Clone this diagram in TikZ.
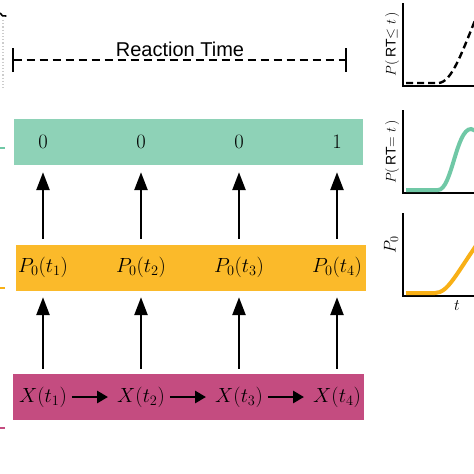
\RequirePackage{fix-cm}
\documentclass[tikz,border=0pt]{standalone}
\usepackage{amsmath}
\usepackage{amssymb}
\usepackage{fontspec}
\newfontfamily\sanslabel{Liberation Sans}
\usepackage{tikz}
\usetikzlibrary{
    arrows.meta,
    calc
}

\definecolor{outcome}{RGB}{142,210,183}
\definecolor{outcomeline}{RGB}{112,200,166}
\definecolor{prob}{RGB}{251,186,42}
\definecolor{probline}{RGB}{248,176,22}
\definecolor{state}{RGB}{196,76,128}

\tikzset{
    lbl/.style={inner sep=0pt, minimum height=40pt, font=\fontsize{20.5}{24}\selectfont},
    uparrow/.style={line width=2.6pt, -{Triangle[length=18pt,width=13pt]},
        shorten <=8pt, shorten >=10pt},
    sidearrow/.style={line width=2.8pt, -{Triangle[length=11pt,width=12pt]},
        shorten <=5pt, shorten >=9pt},
    axis/.style={line width=2.8pt},
    ylab/.style={rotate=90, font=\fontsize{14}{16}\selectfont}
}

\begin{document}
\begin{tikzpicture}[x=1pt,y=-1pt]
\useasboundingbox (0,0) rectangle (474,474);
\clip (0,0) rectangle (474,474);

% Cut-off bits at the left edge
\draw[line width=1.6pt] (0,13) arc (160:70:5);
\draw[gray!40, dotted, line width=1.2pt] (3,20) -- (3,90);
\draw[outcomeline, line width=1.5pt] (0,148) -- (5,148);
\draw[probline, line width=1.5pt] (0,288) -- (5,288);
\draw[state, line width=1.5pt] (0,428) -- (5,428);

% Reaction time span
\coordinate (rtl) at (12,60);
\coordinate (rtr) at (347,60);
\draw[line width=2.2pt, dash pattern=on 8pt off 5pt,
    {Bar[width=24pt,line width=2pt]}-{Bar[width=24pt,line width=2pt]}] (rtl) -- (rtr);
\node[anchor=base, font=\sanslabel\fontsize{20}{24}\selectfont] (rtlabel) at (180,56) {Reaction Time};

% Boxes
\fill[outcome] (14,119) rectangle (363,165);
\fill[prob] (16,245) rectangle (366,291);
\fill[state] (13,374) rectangle (364,420);

% Outcomes
\node[lbl] (z1) at (43,142) {$0$};
\node[lbl] (z2) at (141,142) {$0$};
\node[lbl] (z3) at (239,142) {$0$};
\node[lbl] (z4) at (337,142) {$1$};

% Probabilities
\node[lbl] (p1) at (43,267) {$P_0(t_1)$};
\node[lbl] (p2) at (141,267) {$P_0(t_2)$};
\node[lbl] (p3) at (239,267) {$P_0(t_3)$};
\node[lbl] (p4) at (337,267) {$P_0(t_4)$};

% States
\node[lbl] (x1) at (43,397) {$X(t_1)$};
\node[lbl] (x2) at (141,397) {$X(t_2)$};
\node[lbl] (x3) at (239,397) {$X(t_3)$};
\node[lbl] (x4) at (337,397) {$X(t_4)$};

% Arrows
\draw[uparrow] (p1.north) -- (z1.south);
\draw[uparrow] (p2.north) -- (z2.south);
\draw[uparrow] (p3.north) -- (z3.south);
\draw[uparrow] (p4.north) -- (z4.south);
\draw[uparrow] (x1.north) -- (p1.south);
\draw[uparrow] (x2.north) -- (p2.south);
\draw[uparrow] (x3.north) -- (p3.south);
\draw[uparrow] (x4.north) -- (p4.south);
\draw[sidearrow] (x1.east) -- (x2.west);
\draw[sidearrow] (x2.east) -- (x3.west);
\draw[sidearrow] (x3.east) -- (x4.west);

% Plot: P(RT <= t)
\draw[axis] (403,3) -- (403,86) -- (480,86);
\draw[line width=2.4pt, dash pattern=on 7pt off 4pt]
    (406,83) -- (438,83) .. controls (452,83) and (462,52) .. (480,8);
\node[ylab] (cdf) at (392,44) {$P($\,{\sanslabel RT}$\leq t\,)$};

% Plot: P(RT = t)
\draw[axis] (403,110) -- (403,193) -- (480,193);
\draw[outcomeline, line width=4pt]
    (406,190) -- (438,190) .. controls (452,190) and (456,129) .. (471,129)
    .. controls (474,129) and (476,131) .. (480,136);
\node[ylab] (pdf) at (392,152) {$P($\,{\sanslabel RT}$=t\,)$};

% Plot: P0
\draw[axis] (403,213) -- (403,296) -- (480,296);
\draw[probline, line width=4pt]
    (406,293) -- (435,293) .. controls (448,293) and (456,274) .. (480,240);
\node[ylab, font=\fontsize{17}{19}\selectfont] (pzero) at (391,245) {$P_0$};
\node[font=\fontsize{16}{18}\selectfont] (tlab) at (457,306) {$t$};

\end{tikzpicture}
\end{document}
